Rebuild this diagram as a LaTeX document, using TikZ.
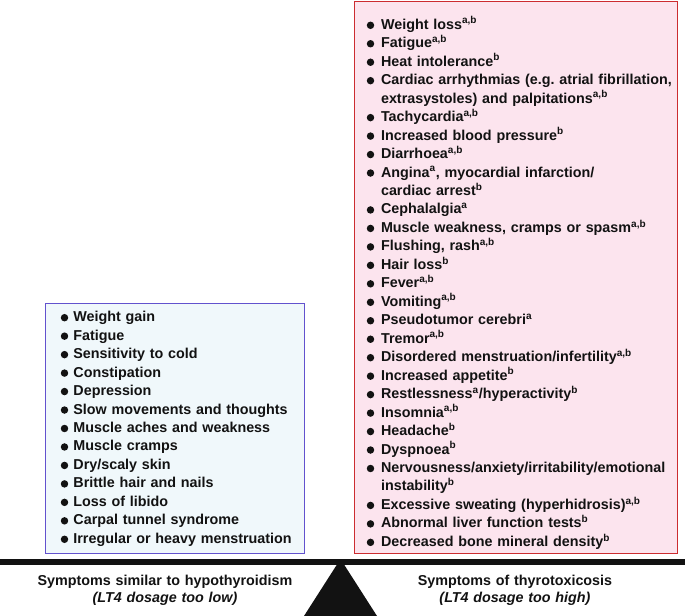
\documentclass[tikz,border=0pt]{standalone}
\usepackage{fontspec}
\setmainfont{Liberation Sans}
\usetikzlibrary{positioning}
\definecolor{ink}{RGB}{18,18,18}
\definecolor{hypoline}{RGB}{98,82,206}
\definecolor{hypofill}{RGB}{240,248,251}
\definecolor{thyroline}{RGB}{204,44,48}
\definecolor{thyrofill}{RGB}{252,228,238}
\frenchspacing
\newlength\symind
\newcommand\bulletdot{\tikz[baseline=-3pt]\fill[ink] (0pt,0pt) circle (2.8pt);}
\newcommand\symitem[1]{\noindent\hangindent=\symind\hangafter=1\makebox[\symind][l]{\bulletdot}#1\par}
\newcommand\supr[1]{\textsuperscript{#1}}

\begin{document}
\begin{tikzpicture}[x=0.75pt,y=-0.75pt,
  symlist/.style={inner sep=0pt,anchor=base west,text=ink,align=left,font=\fontsize{10.75}{13.85}\selectfont\bfseries},
  caption/.style={inner sep=0pt,anchor=base,text=ink,text width=230pt,align=center,font=\fontsize{10.75}{12.75}\selectfont\bfseries}]
\useasboundingbox (0,0) rectangle (685,616);
% symptom boxes
\filldraw[draw=hypoline,fill=hypofill,line width=0.75pt] (45,304) rectangle (304,553);
\filldraw[draw=thyroline,fill=thyrofill,line width=0.75pt] (354,2) rectangle (677,553);
\node[symlist,text width=240pt] (hypolist) at (60.5,321.7) {\setlength\symind{9.5pt}%
\symitem{Weight gain}
\symitem{Fatigue}
\symitem{Sensitivity to cold}
\symitem{Constipation}
\symitem{Depression}
\symitem{Slow movements and thoughts}
\symitem{Muscle aches and weakness}
\symitem{Muscle cramps}
\symitem{Dry/scaly skin}
\symitem{Brittle hair and nails}
\symitem{Loss of libido}
\symitem{Carpal tunnel syndrome}
\symitem{Irregular or heavy menstruation}};
\node[symlist,text width=300pt] (thyrolist) at (366.5,29.3) {\setlength\symind{10.7pt}%
\symitem{Weight loss\supr{a,b}}
\symitem{Fatigue\supr{a,b}}
\symitem{Heat intolerance\supr{b}}
\symitem{Cardiac arrhythmias (e.g. atrial fibrillation,\newline extrasystoles) and palpitations\supr{a,b}}
\symitem{Tachycardia\supr{a,b}}
\symitem{Increased blood pressure\supr{b}}
\symitem{Diarrhoea\supr{a,b}}
\symitem{Angina\supr{a}, myocardial infarction/\newline cardiac arrest\supr{b}}
\symitem{Cephalalgia\supr{a}}
\symitem{Muscle weakness, cramps or spasm\supr{a,b}}
\symitem{Flushing, rash\supr{a,b}}
\symitem{Hair loss\supr{b}}
\symitem{Fever\supr{a,b}}
\symitem{Vomiting\supr{a,b}}
\symitem{Pseudotumor cerebri\supr{a}}
\symitem{Tremor\supr{a,b}}
\symitem{Disordered menstruation/infertility\supr{a,b}}
\symitem{Increased appetite\supr{b}}
\symitem{Restlessness\supr{a}/hyperactivity\supr{b}}
\symitem{Insomnia\supr{a,b}}
\symitem{Headache\supr{b}}
\symitem{Dyspnoea\supr{b}}
\symitem{Nervousness/anxiety/irritability/emotional\newline instability\supr{b}}
\symitem{Excessive sweating (hyperhidrosis)\supr{a,b}}
\symitem{Abnormal liver function tests\supr{b}}
\symitem{Decreased bone mineral density\supr{b}}};
% balance beam and fulcrum
\fill[ink] (0,559) rectangle (685,565);
\fill[ink] (340.5,559) -- (304,616) -- (377,616) -- cycle;
\node[caption] (hypocap) at (165,585) {Symptoms similar to hypothyroidism\\{\itshape(LT4 dosage too low)}};
\node[caption] (thyrocap) at (515,585) {Symptoms of thyrotoxicosis\\{\itshape(LT4 dosage too high)}};
\end{tikzpicture}
\end{document}
